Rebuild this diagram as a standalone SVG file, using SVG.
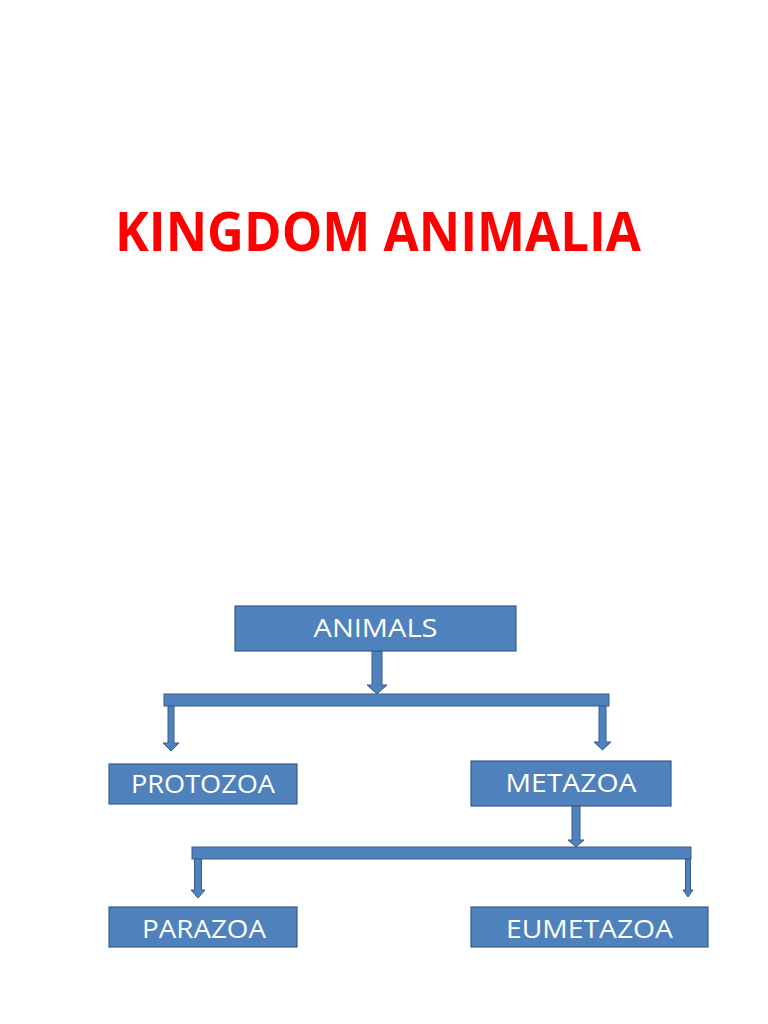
<svg xmlns="http://www.w3.org/2000/svg" width="768" height="1024" viewBox="0 0 768 1024">
<style>
.box{fill:#4F81BD;stroke:#385D8A;stroke-width:1.2}
.lbl{font-family:"Open Sans","Liberation Sans",Arial,sans-serif;font-size:26px;fill:#FFFFFF;text-anchor:middle}
.conn{fill:#4F81BD;stroke:#385D8A;stroke-width:1}
.title{font-family:"Open Sans","Liberation Sans",Arial,sans-serif;font-weight:bold;font-size:54px;fill:#FF0000;text-anchor:middle}
</style>
<rect width="768" height="1024" fill="#FFFFFF"/>
<text class="title" x="378" y="251" textLength="526" lengthAdjust="spacingAndGlyphs">KINGDOM ANIMALIA</text>
<g id="connectors">
<polygon class="conn" points="372,651 382,651 382,685 387,685 377,694 367,685 372,685"/>
<rect class="conn" x="164" y="694" width="445" height="12"/>
<polygon class="conn" points="168,706 174,706 174,743 179,743 171,751 163,743 168,743"/>
<polygon class="conn" points="599,706 606,706 606,742 611,742 602.5,750 594,742 599,742"/>
<polygon class="conn" points="572,806 580,806 580,840 584,840 576,847 568,840 572,840"/>
<rect class="conn" x="192" y="847" width="499" height="12"/>
<polygon class="conn" points="194.5,859 201.5,859 201.5,890 205,890 198,898 191,890 194.5,890"/>
<polygon class="conn" points="685.5,859 690.5,859 690.5,890 693,890 688,897 683,890 685.5,890"/>
</g>
<g id="animals">
<rect class="box" x="235" y="606" width="281" height="45"/>
<text class="lbl" x="375.5" y="637" textLength="124" lengthAdjust="spacingAndGlyphs">ANIMALS</text>
</g>
<g id="protozoa">
<rect class="box" x="109" y="764" width="188" height="40"/>
<text class="lbl" x="203" y="793" textLength="144" lengthAdjust="spacingAndGlyphs">PROTOZOA</text>
</g>
<g id="metazoa">
<rect class="box" x="471" y="761" width="200" height="45"/>
<text class="lbl" x="571" y="792" textLength="131" lengthAdjust="spacingAndGlyphs">METAZOA</text>
</g>
<g id="parazoa">
<rect class="box" x="109" y="907" width="188" height="40"/>
<text class="lbl" x="204" y="938" textLength="124" lengthAdjust="spacingAndGlyphs">PARAZOA</text>
</g>
<g id="eumetazoa">
<rect class="box" x="471" y="907" width="237" height="40"/>
<text class="lbl" x="589.5" y="938" textLength="167" lengthAdjust="spacingAndGlyphs">EUMETAZOA</text>
</g>
</svg>
